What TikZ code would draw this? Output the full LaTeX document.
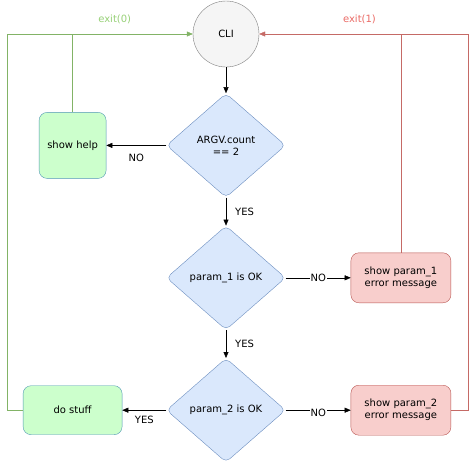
\documentclass[tikz,border=0pt]{standalone}
\usepackage{fontspec}
\setmainfont{DejaVu Sans}
\usetikzlibrary{shapes.geometric,positioning,arrows.meta}

\definecolor{startfill}{HTML}{F5F5F5}
\definecolor{startline}{HTML}{808080}
\definecolor{testfill}{HTML}{DAE8FC}
\definecolor{testline}{HTML}{6C8EBF}
\definecolor{okfill}{HTML}{CCFFCC}
\definecolor{okedge}{HTML}{4F97B4}
\definecolor{errfill}{HTML}{F8CECC}
\definecolor{erredge}{HTML}{B85450}
\definecolor{exitok}{HTML}{82B366}
\definecolor{exitoktext}{HTML}{97D077}
\definecolor{exiterr}{HTML}{C56A66}
\definecolor{exiterrtext}{HTML}{EA6B66}

\begin{document}
\begin{tikzpicture}[x=1pt,y=-1pt,
  font=\fontsize{10}{12}\selectfont,
  start/.style={circle, draw=startline, fill=startfill, minimum size=66pt, inner sep=0pt},
  test/.style={diamond, draw=testline, fill=testfill, aspect=1.144,
    minimum width=119pt, minimum height=104pt, inner sep=0pt, align=center,
    rounded corners=5pt},
  okbox/.style={rectangle, draw=okedge, fill=okfill, rounded corners=8pt, align=center},
  errbox/.style={rectangle, draw=erredge, fill=errfill, rounded corners=8pt, align=center,
    minimum width=100pt, minimum height=50pt},
  flow/.style={-{Triangle[length=6pt,width=5pt]}, black},
  okline/.style={exitok},
  errline/.style={exiterr},
  lbl/.style={inner sep=1pt}]
  \useasboundingbox (0,0) rectangle (474,464);

  % Nodes

  % main path
  \node[start] (cli) at (226,34) {CLI} ;
  \node[test, below=26pt of cli] (argc) {ARGV.count\\== 2} ;
  \node[test, below=28pt of argc] (param1) {param\_1 is OK} ;
  \node[test, below=28pt of param1] (param2) {param\_2 is OK} ;

  % side boxes
  \node[okbox, left=60pt of argc, minimum width=67pt, minimum height=66pt] (help) {show help} ;
  \node[okbox, left=44pt of param2, minimum width=99pt, minimum height=49pt] (stuff) {do stuff} ;
  \node[errbox, right=65pt of param1] (err1) {show param\_1\\error message} ;
  \node[errbox, right=65pt of param2] (err2) {show param\_2\\error message} ;

  % Connect the nodes
  \draw[flow] (cli) -- (argc) ;
  \draw[flow] (argc) -- node[lbl, below=7pt] {NO} (help) ;
  \draw[flow] (argc) -- node[lbl, right=8pt] {YES} (param1) ;
  \draw[flow] (param1) -- node[lbl, fill=white] {NO} (err1) ;
  \draw[flow] (param1) -- node[lbl, right=8pt] {YES} (param2) ;
  \draw[flow] (param2) -- node[lbl, below=5pt] {YES} (stuff) ;
  \draw[flow] (param2) -- node[lbl, fill=white, yshift=-3pt] {NO} (err2) ;

  % exit paths
  \draw[okline] (help.north) -- (help.north |- cli) ;
  \draw[okline, -{Triangle[length=6pt,width=5pt]}] (stuff.west) -- ++(-16,0)
    |- node[pos=0.79, above=7pt, text=exitoktext] {exit(0)} (cli) ;
  \draw[errline] (err1.north) -- (err1.north |- cli) ;
  \draw[errline, -{Triangle[length=6pt,width=5pt]}] (err2.east) -- ++(17,0)
    |- node[pos=0.76, above=7pt, text=exiterrtext] {exit(1)} (cli) ;
\end{tikzpicture}
\end{document}
